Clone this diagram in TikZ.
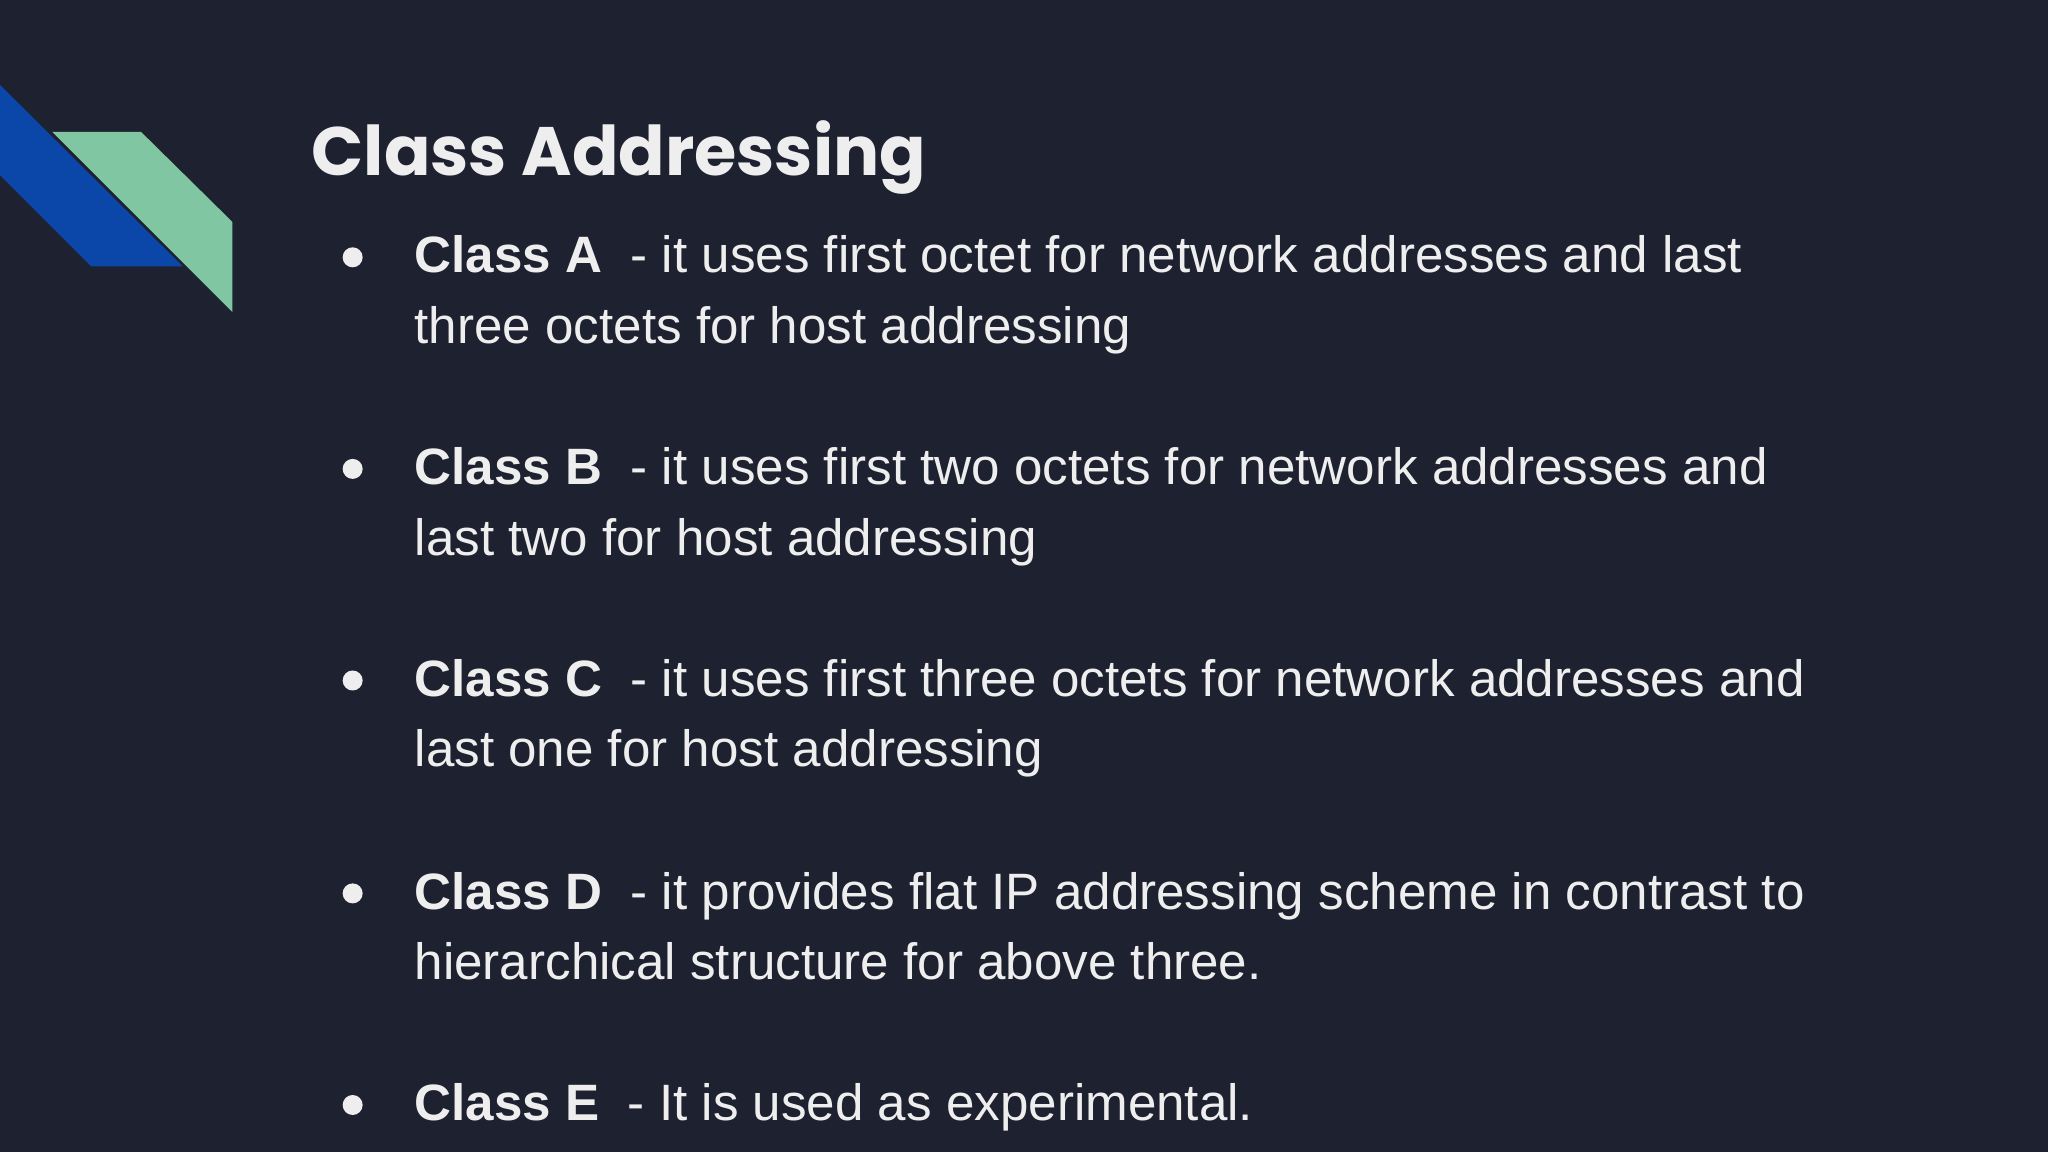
\documentclass[tikz,border=0pt]{standalone}
\usepackage{fontspec}
\setmainfont{Liberation Sans}
\newfontfamily\titlefont{Poppins}
\definecolor{bg}{HTML}{1E2130}
\definecolor{fg}{HTML}{EEEEEE}
\definecolor{sblue}{HTML}{0B47A8}
\definecolor{sgreen}{HTML}{80C6A2}
\tikzset{ln/.style={anchor=base west,inner sep=0pt,text=fg,font=\fontsize{14.55}{18}\selectfont},
bul/.style={circle,fill=fg,inner sep=0pt,minimum size=0.2cm}}
\begin{document}
\begin{tikzpicture}[x=0.013061cm,y=-0.013061cm]
\fill[bg] (0,0) rectangle (1568,882);
\useasboundingbox (0,0) rectangle (1568,882);
\fill[sblue] (0,65) -- (140,204) -- (70,204) -- (0,134) -- cycle;
\fill[sgreen] (40,101) -- (108,101) -- (178,170) -- (178,239) -- cycle;
\node[anchor=base west,inner sep=0pt,text=fg,font=\titlefont\bfseries\fontsize{19.5}{24}\selectfont] (t) at (238,134) {Class Addressing};
\foreach \y/\n in {197/a,359/b,521/c,684/d,846/e} \node[bul] (b\n) at (270,\y) {};
\node[ln] (a1) at (317,209) {\textbf{Class A}\ \ - it uses first octet for network addresses and last};
\node[ln] (a2) at (317,263) {three octets for host addressing};
\node[ln] (b1) at (317,371) {\textbf{Class B}\ \ - it uses first two octets for network addresses and};
\node[ln] (b2) at (317,425) {last two for host addressing};
\node[ln] (c1) at (317,533) {\textbf{Class C}\ \ - it uses first three octets for network addresses and};
\node[ln] (c2) at (317,587) {last one for host addressing};
\node[ln] (d1) at (317,696) {\textbf{Class D}\ \ - it provides flat IP addressing scheme in contrast to};
\node[ln] (d2) at (317,750) {hierarchical structure for above three.};
\node[ln] (e1) at (317,858) {\textbf{Class E}\ \ - It is used as experimental.};
\end{tikzpicture}
\end{document}
